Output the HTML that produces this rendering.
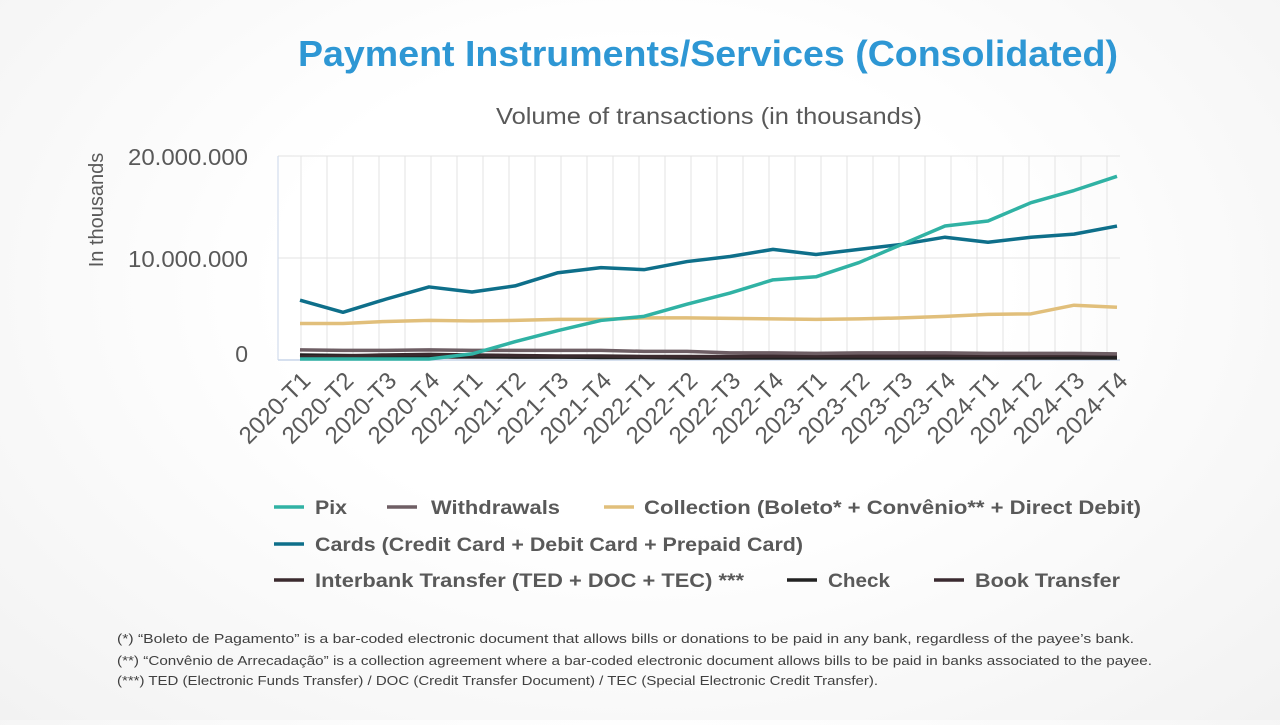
<!DOCTYPE html>
<html><head><meta charset="utf-8"><style>
body{margin:0;width:1280px;height:720px;overflow:hidden;background:radial-gradient(ellipse at 50% 40%,#ffffff 40%,#f2f2f2 100%);font-family:"Liberation Sans",sans-serif;}
</style></head><body>
<svg width="1280" height="720" xmlns="http://www.w3.org/2000/svg" font-family="Liberation Sans, sans-serif">
<text x="298" y="66" font-size="36" font-weight="bold" fill="#2E97D4" textLength="820" lengthAdjust="spacingAndGlyphs">Payment Instruments/Services (Consolidated)</text>
<text x="496" y="124" font-size="23" fill="#595959" textLength="426" lengthAdjust="spacingAndGlyphs">Volume of transactions (in thousands)</text>
<text x="103" y="210" text-anchor="middle" font-size="20" fill="#595959" transform="rotate(-90 103 210)">In thousands</text>
<g font-size="23" fill="#595959" text-anchor="end">
<text x="248" y="165" textLength="120" lengthAdjust="spacingAndGlyphs">20.000.000</text><text x="248" y="267" textLength="120" lengthAdjust="spacingAndGlyphs">10.000.000</text><text x="248" y="362">0</text></g>
<g stroke="#e3e3e3" stroke-width="1">
<line x1="278" y1="156" x2="1120" y2="156"/><line x1="278" y1="258" x2="1120" y2="258"/>
<g id="vg"></g>
</g>
<line x1="278" y1="156" x2="278" y2="360" stroke="#c9d6ea"/>
<line x1="278" y1="360" x2="1120" y2="360" stroke="#c9d6ea" stroke-width="1.5"/>
<g id="lines" fill="none" stroke-width="3.5" stroke-linejoin="round"></g>
<g id="xl" font-size="24" fill="#595959" text-anchor="end"></g>
<g font-size="19" font-weight="bold" fill="#595959">
<line x1="274" y1="507" x2="304" y2="507" stroke="#30B2A4" stroke-width="3.5"/><text x="315" y="514" textLength="32" lengthAdjust="spacingAndGlyphs">Pix</text>
<line x1="387" y1="507" x2="417" y2="507" stroke="#6E5E64" stroke-width="3.5"/><text x="431" y="514" textLength="129" lengthAdjust="spacingAndGlyphs">Withdrawals</text>
<line x1="604" y1="507" x2="634" y2="507" stroke="#E1BF7B" stroke-width="3.5"/><text x="644" y="514" textLength="497" lengthAdjust="spacingAndGlyphs">Collection (Boleto* + Convênio** + Direct Debit)</text>
<line x1="274" y1="544" x2="304" y2="544" stroke="#0E6F8A" stroke-width="3.5"/><text x="315" y="551" textLength="488" lengthAdjust="spacingAndGlyphs">Cards (Credit Card + Debit Card + Prepaid Card)</text>
<line x1="274" y1="580" x2="304" y2="580" stroke="#3B2A2E" stroke-width="3.5"/><text x="315" y="587" textLength="429" lengthAdjust="spacingAndGlyphs">Interbank Transfer (TED + DOC + TEC) ***</text>
<line x1="787" y1="580" x2="817" y2="580" stroke="#222" stroke-width="3.5"/><text x="828" y="587" textLength="62" lengthAdjust="spacingAndGlyphs">Check</text>
<line x1="934" y1="580" x2="964" y2="580" stroke="#3a2a30" stroke-width="3.5"/><text x="975" y="587" textLength="145" lengthAdjust="spacingAndGlyphs">Book Transfer</text>
</g>
<g font-size="13" fill="#404040">
<text x="117" y="643" textLength="1017" lengthAdjust="spacingAndGlyphs">(*) “Boleto de Pagamento” is a bar-coded electronic document that allows bills or donations to be paid in any bank, regardless of the payee’s bank.</text>
<text x="117" y="665" textLength="1035" lengthAdjust="spacingAndGlyphs">(**) “Convênio de Arrecadação” is a collection agreement where a bar-coded electronic document allows bills to be paid in banks associated to the payee.</text>
<text x="117" y="685" textLength="761" lengthAdjust="spacingAndGlyphs">(***) TED (Electronic Funds Transfer) / DOC (Credit Transfer Document) / TEC (Special Electronic Credit Transfer).</text>
</g>
</svg>
<script>
const ns="http://www.w3.org/2000/svg";
const vg=document.getElementById('vg');
for(let x=301;x<1120;x+=26){const l=document.createElementNS(ns,'line');l.setAttribute('x1',x);l.setAttribute('x2',x);l.setAttribute('y1',156);l.setAttribute('y2',360);vg.appendChild(l);}
const X=i=>300+i*43, Y=v=>359-v*10.15;
const S=[
["#3a2a30",[0.2,0.2,0.2,0.2,0.2,0.2,0.2,0.2,0.2,0.2,0.2,0.2,0.2,0.2,0.2,0.2,0.2,0.2,0.2,0.2]],
["#222",[0.4,0.35,0.3,0.3,0.25,0.2,0.2,0.15,0.15,0.1,0.1,0.1,0.1,0.1,0.1,0.1,0.1,0.1,0.1,0.1]],
["#3B2A2E",[0.2,0.3,0.4,0.45,0.4,0.35,0.3,0.3,0.25,0.25,0.25,0.3,0.3,0.3,0.3,0.35,0.35,0.35,0.4,0.45]],
["#6E5E64",[0.9,0.85,0.85,0.9,0.85,0.85,0.85,0.85,0.75,0.75,0.6,0.6,0.55,0.6,0.6,0.6,0.55,0.55,0.55,0.5]],
["#E1BF7B",[3.5,3.5,3.7,3.8,3.75,3.8,3.9,3.9,4.05,4.05,4.0,3.95,3.9,3.95,4.05,4.2,4.4,4.45,5.3,5.1]],
["#0E6F8A",[5.8,4.6,5.9,7.1,6.6,7.2,8.5,9.0,8.8,9.6,10.1,10.8,10.3,10.8,11.3,12.0,11.5,12.0,12.3,13.1]],
["#30B2A4",[0,0,0,0,0.5,1.7,2.8,3.8,4.2,5.4,6.5,7.8,8.1,9.5,11.3,13.1,13.6,15.4,16.6,18.0]]];
const g=document.getElementById('lines');
S.forEach(([c,d])=>{const p=document.createElementNS(ns,'polyline');p.setAttribute('stroke',c);p.setAttribute('points',d.map((v,i)=>X(i)+','+Y(v)).join(' '));g.appendChild(p);});
const xl=document.getElementById('xl');
for(let i=0;i<20;i++){const y=2020+Math.floor(i/4),q=i%4+1;const t=document.createElementNS(ns,'text');const x=X(i)+12,yy=382;t.setAttribute('x',x);t.setAttribute('y',yy);t.setAttribute('transform',`rotate(-45 ${x} ${yy})`);t.textContent=y+'-T'+q;xl.appendChild(t);}
</script>
</body></html>
